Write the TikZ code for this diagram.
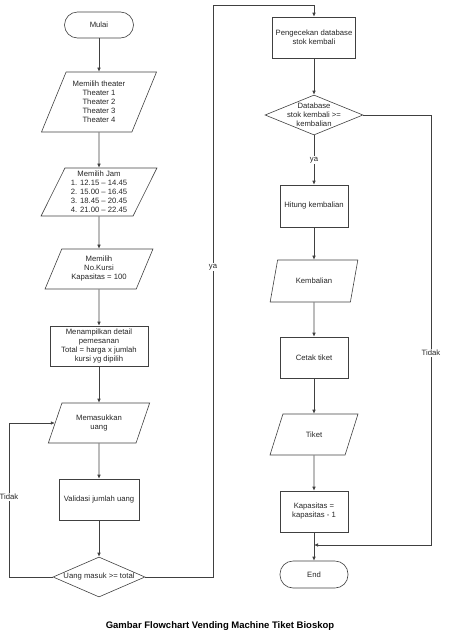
\documentclass[tikz,border=0pt]{standalone}
\usepackage{fontspec}
\setmainfont{Liberation Sans}
\usetikzlibrary{arrows.meta,shapes.geometric}
\tikzset{
	base/.style={draw=black!75, line width=0.6pt, text=black!85, font=\fontsize{7.7}{9}\selectfont, align=center, inner sep=1.5pt},
	terminal/.style={base, rectangle, rounded corners=13pt, minimum width=69pt, minimum height=26pt},
	process/.style={base, rectangle, minimum width=68pt, minimum height=41pt},
	inout/.style={base, trapezium, trapezium left angle=65, trapezium right angle=115, trapezium stretches=true, minimum height=41pt},
	decision/.style={base, diamond, minimum width=92pt, minimum height=40pt, inner sep=0pt},
	flow/.style={draw=black!75, line width=0.6pt, -{Latex[length=4pt,width=3.5pt]}},
	tag/.style={fill=white, text=black!85, font=\fontsize{7.7}{9}\selectfont, inner sep=1pt}
}

\begin{document}
\begin{tikzpicture}[x=1pt, y=-1pt]
			%%%%% START %%%%%
			\useasboundingbox (0, 0) rectangle (451, 640);
			
			% left column
			\node[terminal] (mulai) at (99, 25) {Mulai};
			\node[inout, minimum width=116pt, minimum height=60pt] (theater) at (99, 102) {Memilih theater\\Theater 1\\Theater 2\\Theater 3\\Theater 4};
			\node[inout, minimum width=116pt, minimum height=48pt] (jam) at (99, 192) {Memilih Jam\\1. 12.15 -- 14.45\\2. 15.00 -- 16.45\\3. 18.45 -- 20.45\\4. 21.00 -- 22.45};
			\node[inout, minimum width=108pt, minimum height=40pt] (kursi) at (99, 269) {Memilih\\No.Kursi\\Kapasitas = 100};
			\node[process, minimum width=98pt, minimum height=40pt] (detail) at (99, 346) {Menampilkan detail\\pemesanan\\Total = harga x jumlah\\kursi yg dipilih};
			\node[inout, minimum width=102pt, minimum height=40pt] (uang) at (99, 423) {Memasukkan\\uang};
			\node[process, minimum width=80pt] (validasi) at (99, 499.5) {Validasi jumlah uang};
			\node[decision, label={[base, draw=none]center:Uang masuk >= total}] (cekuang) at (99, 577) {};
			
			% right column
			\node[process, minimum width=83pt] (cekdb) at (314, 37.5) {Pengecekan database\\stok kembali};
			\node[decision, minimum width=98pt, label={[base, draw=none]center:Database\\stok kembali >=\\kembalian}] (cekstok) at (314, 115) {};
			\node[process, minimum height=42pt] (hitung) at (314, 206) {Hitung kembalian};
			\node[inout, minimum width=88pt, minimum height=42pt] (kembalian) at (314, 281) {Kembalian};
			\node[process] (cetak) at (314, 357.5) {Cetak tiket};
			\node[inout, minimum width=88pt] (tiket) at (314, 434.5) {Tiket};
			\node[process] (kapasitas) at (314, 511.5) {Kapasitas =\\kapasitas - 1};
			\node[terminal, minimum width=68pt, minimum height=27pt] (end) at (314, 574.5) {End};
			\coordinate (gabung) at (314, 545);
			
			% arrows
			\draw[flow] (mulai) -- (theater);
			\draw[flow] (theater) -- (jam);
			\draw[flow] (jam) -- (kursi);
			\draw[flow] (kursi) -- (detail);
			\draw[flow] (detail) -- (uang);
			\draw[flow] (uang) -- (validasi);
			\draw[flow] (validasi) -- (cekuang);
			\draw[flow] (cekuang.west) -- (9, 577) -- (9, 423) -- (uang.west);
			\node[tag] (tidak1) at (9, 497) {Tidak};
			\draw[flow] (cekuang.east) -- (213, 577) -- (213, 5) -- (314, 5) -- (cekdb.north);
			\node[tag] (ya1) at (213, 267) {ya};
			
			\draw[flow] (cekdb) -- (cekstok);
			\draw[flow] (cekstok) -- (hitung);
			\node[tag] (ya2) at (314, 160) {ya};
			\draw[flow] (hitung) -- (kembalian);
			\draw[flow] (kembalian) -- (cetak);
			\draw[flow] (cetak) -- (tiket);
			\draw[flow] (tiket) -- (kapasitas);
			\draw[flow] (kapasitas) -- (end);
			\draw[flow] (cekstok.east) -- (431, 115) -- (431, 545) -- (gabung);
			\node[tag] (tidak2) at (431, 353) {Tidak};
			
			\node[font=\fontsize{9.5}{11}\selectfont\bfseries] (judul) at (220, 626) {Gambar Flowchart Vending Machine Tiket Bioskop};
			%%%%% END %%%%%
\end{tikzpicture}
\end{document}
